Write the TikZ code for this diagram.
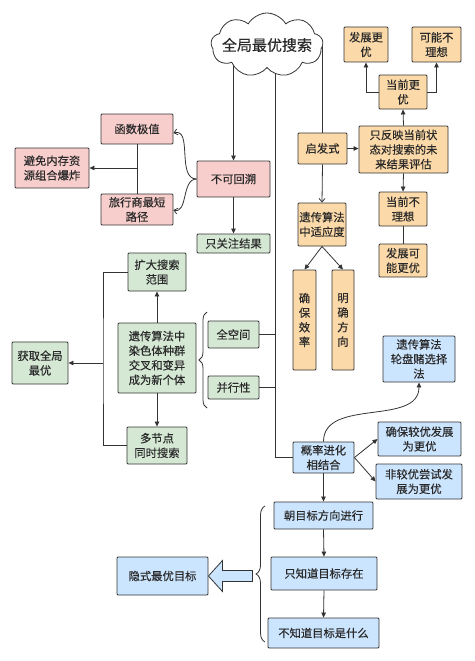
\documentclass[tikz,border=0pt]{standalone}
\usepackage{fontspec}
\setmainfont{Noto Sans CJK SC}[FakeBold=0.3]
\usetikzlibrary{shapes.symbols,arrows.meta,decorations.pathreplacing,backgrounds}
\definecolor{pinkf}{HTML}{F8CECC}
\definecolor{greenf}{HTML}{D5E8D4}
\definecolor{orangef}{HTML}{FCD9A8}
\definecolor{bluef}{HTML}{CCE5FF}
\definecolor{bordc}{HTML}{333333}
\definecolor{textc}{HTML}{2A2A2A}
\begin{document}
\begin{tikzpicture}[x=1pt,y=1pt,
  box/.style={draw=bordc, line width=0.9pt, rounded corners=1pt, align=center, inner sep=0pt, text=textc, font=\fontsize{11.3}{14.6}\selectfont},
  wh/.style 2 args={minimum width=#1, minimum height=#2},
  pinkb/.style={box, fill=pinkf},
  greenb/.style={box, fill=greenf},
  orangeb/.style={box, fill=orangef},
  blueb/.style={box, fill=bluef},
  ln/.style={draw=bordc, line width=0.8pt},
  arr/.style={ln, -{Triangle[length=5pt,width=4.5pt]}},
  barb/.style={ln, -{Straight Barb[length=3.5pt,width=6pt]}},
  bracest/.style={ln, decorate},
]
\useasboundingbox (0,0) rectangle (474,-661);

% cloud
\node[cloud, cloud puffs=9, cloud puff arc=120, draw=bordc, line width=0.8pt, fill=white, minimum width=112, minimum height=64, inner sep=0pt] (cloud) at (267,-45) {};
\node[text=textc, font=\fontsize{15}{18}\selectfont] (cloudtxt) at (cloud.center) {全局最优搜索};

% pink
\node[pinkb, wh={72}{30}] (hanshu) at (137,-129) {函数极值};
\node[pinkb, wh={72}{31}] (lvxing) at (137,-209.5) {旅行商最短\\路径};
\node[pinkb, wh={74}{40}] (bimian) at (52,-168) {避免内存资\\源组合爆炸};
\node[pinkb, wh={73}{36}] (bukehui) at (233.5,-179) {不可回溯};
\node[greenb, wh={73}{19}] (zhiguan) at (233.5,-243.5) {只关注结果};

% orange
\node[orangeb, wh={44}{35}] (fazhan) at (366,-44.5) {发展更\\优};
\node[orangeb, wh={49}{35}] (keneng) at (436.5,-44.5) {可能不\\理想};
\node[orangeb, wh={48}{34}] (dangqian) at (403,-92) {当前更\\优};
\node[orangeb, wh={89}{47}] (zhifan) at (403.5,-149.5) {只反映当前状\\态对搜索的未\\来结果评估};
\node[orangeb, wh={49}{31}] (qifa) at (322.5,-148.5) {启发式};
\node[orangeb, wh={48}{34}] (dangbu) at (403,-209) {当前不\\理想};
\node[orangeb, wh={48}{33}] (fazhanke) at (403,-260.5) {发展可\\能更优};
\node[orangeb, wh={48}{43}] (shiying) at (322,-224.5) {遗传算法\\中适应度};
\node[orangeb, wh={23}{100}] (xiaolv) at (304.5,-320) {确\\保\\效\\率};
\node[orangeb, wh={22}{100}] (fangxiang) at (343,-320) {明\\确\\方\\向};

% green
\node[greenb, wh={58}{38}] (kuoda) at (157,-272) {扩大搜索\\范围};
\node[greenb, wh={78}{70}] (ranse) at (157,-358) {遗传算法中\\染色体种群\\交叉和变异\\成为新个体};
\node[greenb, wh={60}{37}] (duojie) at (157,-445.5) {多节点\\同时搜索};
\node[greenb, wh={56}{42}] (huoqu) at (40,-363) {获取全局\\最优};
\node[greenb, wh={51}{27}] (quankong) at (233.5,-334.5) {全空间};
\node[greenb, wh={51}{23}] (bingxing) at (233.5,-387.5) {并行性};

% blue
\node[blueb, wh={72}{46}] (lunpan) at (419,-359) {遗传算法\\轮盘赌选择\\法};
\node[blueb, wh={83}{34}] (quebao) at (419.5,-439) {确保较优发展\\为更优};
\node[blueb, wh={86}{35}] (feijiao) at (419,-481.5) {非较优尝试发\\展为更优};
\node[blueb, wh={61}{31}] (gailv) at (323.5,-457.5) {概率进化\\相结合};
\node[blueb, wh={99}{27}] (chao) at (323.5,-515.5) {朝目标方向进行};
\node[blueb, wh={106}{33}] (zhizhi) at (324,-573.5) {只知道目标存在};
\node[blueb, wh={111}{30}] (buzhi) at (323.5,-633) {不知道目标是什么};
\node[blueb, wh={91}{38}] (yinshi) at (162.5,-576) {隐式最优目标};

% coordinates
\coordinate (trunktop) at (275,-45);
\coordinate (lft) at (103,-363);

% connectors
\draw[arr] (bukehui.south) -- (zhiguan.north);
\draw[barb] (bukehui.west) to[out=180,in=15] (hanshu.east |- 0,-133);
\draw[barb] (bukehui.west) to[out=180,in=-15] (lvxing.east |- 0,-210);
\draw[ln] (hanshu.south) -- (lvxing.north);
\draw[arr] (hanshu.south |- bimian.east) -- (bimian.east);

\draw[barb] (qifa.south) -- (shiying.north);
\draw[arr] (qifa.east) -- (qifa.east -| zhifan.west);
\draw[arr] (zhifan.north) -- (dangqian.south);
\draw[arr] (dangqian.west) -| (fazhan.south);
\draw[arr] (dangqian.east) -| (keneng.south);
\draw[arr] (zhifan.south) -- (dangbu.north);
\draw[ln] (dangbu.south) -- (fazhanke.north);
\draw[arr] (shiying.south) -- (xiaolv.north);
\draw[arr] (shiying.south) -- (fangxiang.north);

\draw[arr] (ranse.north) -- (kuoda.south);
\draw[arr] (ranse.south) -- (duojie.north);
\draw[ln] (kuoda.west) -| (lft) |- (duojie.west);
\draw[arr] (lft) -- (huoqu.east);
\draw[ln] (quankong.east) -- (quankong.east -| trunktop);
\draw[ln] (bingxing.east) -- (bingxing.east -| trunktop);
\draw[bracest, decoration={brace, amplitude=8pt}] (207,-408) -- (207,-312);

\draw[arr] (gailv.north) to[out=90,in=-90] (lunpan.south);
\draw[arr] (gailv.east) -- (quebao.west);
\draw[arr] (gailv.east) -- (feijiao.west);
\draw[arr] (gailv.south) -- (chao.north);
\draw[arr] (chao.south) -- (zhizhi.north);
\draw[arr] (zhizhi.south) -- (buzhi.north);
\draw[bracest, decoration={brace, amplitude=9pt}] (265,-642) -- (265,-506);
\draw[ln, fill=bluef] (yinshi.east) -- ++(14,15.5) -- ++(0,-10) -- ++(30,0) -- ++(0,-11) -- ++(-30,0) -- ++(0,-10) -- cycle;

\begin{scope}[on background layer]
\draw[arr] (cloud.center -| bukehui.north) -- (bukehui.north);
\draw[ln] (cloud.center -| qifa.north) -- (qifa.north);
\draw[ln] (trunktop) |- (gailv.west);
\end{scope}
\end{tikzpicture}
\end{document}
